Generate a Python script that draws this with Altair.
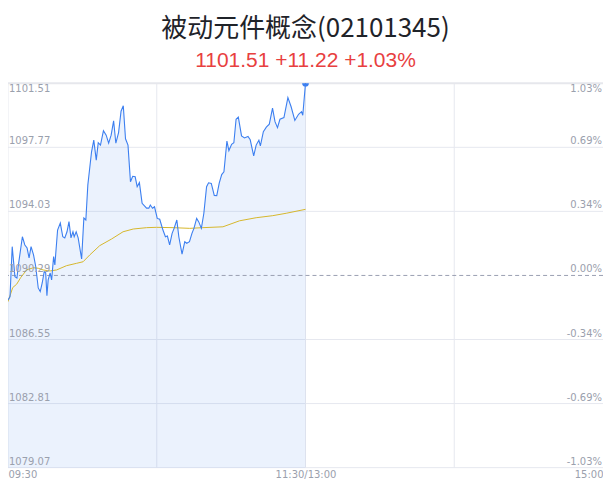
import altair as alt
import pandas as pd

# ---- data ----
minutes = [0, 0.8, 1.7, 2.8, 3.6, 4.1, 5.8, 6.8, 7.7, 8.5,
           9.3, 10.3, 11.2, 12.2, 13.0, 13.8, 14.6, 15.2, 15.7, 16.2,
           17.0, 17.6, 18.4, 18.9, 20.0, 21.1, 22.1, 22.9, 23.8, 24.6,
           25.4, 26.2, 26.7, 27.5, 28.3, 29.7, 30.6, 31.4, 32.2, 33.7,
           34.6, 35.6, 36.4, 37.3, 38.5, 39.6, 40.6, 41.6, 42.6, 43.5,
           44.6, 45.6, 46.5, 47.4, 48.4, 49.4, 50.3, 51.3, 52.1, 53.0,
           54.1, 55.9, 56.8, 57.4, 58.3, 59.1, 60.2, 61.2, 62.5, 63.5,
           64.3, 65.2, 66.2, 67.0, 68.1, 68.9, 70.2, 71.3, 72.1, 73.2,
           74.2, 75.0, 76.1, 76.9, 78.0, 79.0, 80.1, 80.9, 82.0, 83.2,
           84.2, 85.2, 86.2, 87.1, 88.3, 89.1, 90.2, 91.1, 92.0, 92.9,
           94.2, 95.4, 96.8, 97.7, 99.1, 100.1, 101.2, 101.8, 103.0, 104.2,
           105.4, 106.7, 107.7, 108.7, 109.7, 111.3, 112.9, 114.2, 115.7, 117.2,
           118.4, 118.9, 120]
prices = [1088.86, 1089.04, 1091.97, 1090.22, 1090.14, 1090.80, 1092.55, 1092.07, 1091.89, 1091.31,
          1091.97, 1091.49, 1090.80, 1089.56, 1089.35, 1089.85, 1090.51, 1090.44, 1089.10, 1090.03,
          1090.44, 1090.03, 1091.39, 1090.90, 1092.94, 1093.35, 1092.55, 1092.48, 1092.84, 1093.43,
          1092.48, 1092.84, 1092.55, 1092.84, 1092.48, 1091.25, 1093.64, 1093.53, 1095.57, 1097.51,
          1098.19, 1097.02, 1098.04, 1097.90, 1098.74, 1098.48, 1098.01, 1098.48, 1099.32, 1098.01,
          1098.63, 1099.88, 1100.20, 1098.27, 1097.90, 1095.76, 1096.08, 1096.05, 1095.47, 1095.71,
          1094.50, 1094.22, 1094.22, 1094.40, 1094.21, 1094.30, 1093.62, 1093.57, 1092.94, 1092.55,
          1092.59, 1092.07, 1092.75, 1093.04, 1093.53, 1092.55, 1091.54, 1092.26, 1092.17, 1092.26,
          1092.75, 1093.04, 1093.62, 1093.43, 1093.04, 1093.92, 1095.47, 1095.70, 1095.66, 1094.96,
          1094.95, 1095.68, 1096.18, 1096.34, 1098.13, 1097.58, 1097.95, 1098.04, 1099.41, 1099.53,
          1098.44, 1098.32, 1098.40, 1098.21, 1097.27, 1097.90, 1098.19, 1097.86, 1098.68, 1098.95,
          1099.12, 1100.06, 1099.27, 1098.92, 1099.41, 1099.51, 1100.67, 1100.14, 1099.34, 1099.70,
          1099.85, 1099.64, 1101.51]

avg_minutes = [0, 1.9, 3.5, 5.1, 7.5, 10.2, 12.2, 14.2, 16.9, 19.6,
               23.6, 27.7, 30.3, 33.0, 37.0, 41.8, 46.4, 50.5, 55.9, 59.9,
               66.6, 73.3, 78.6, 86.7, 93.4, 100.1, 106.8, 112.2, 120]
avg_prices = [1088.76, 1089.58, 1089.78, 1090.16, 1090.61, 1090.74, 1090.71, 1090.61, 1090.55, 1090.61,
              1090.86, 1091.00, 1091.09, 1091.49, 1092.03, 1092.42, 1092.84, 1093.00, 1093.08, 1093.10,
              1093.08, 1093.04, 1093.08, 1093.13, 1093.48, 1093.66, 1093.78, 1093.92, 1094.15]

y_ticks = [1101.51, 1097.77, 1094.03, 1090.29, 1086.55, 1082.81, 1079.07]
y_labels = ["1101.51", "1097.77", "1094.03", "1090.29", "1086.55", "1082.81", "1079.07"]
pct_labels = ["1.03%", "0.69%", "0.34%", "0.00%", "-0.34%", "-0.69%", "-1.03%"]
pre_close = 1090.29
grid_minutes = [0, 60, 120, 180]
x_tick_minutes = [0, 120, 240]
x_tick_labels = ["09:30", "11:30/13:00", "15:00"]

title_text = "被动元件概念(02101345)"
subtitle_text = "1101.51 +11.22 +1.03%"

# ---- tables ----
df = pd.DataFrame({"m": minutes, "p": prices})
df_avg = pd.DataFrame({"m": avg_minutes, "p": avg_prices})
df_ticks = pd.DataFrame({"v": y_ticks, "lab": y_labels, "pct": pct_labels})
df_grid_h = pd.DataFrame({"v": [v for v in y_ticks if v != pre_close and v != max(y_ticks)]})
df_grid_v = pd.DataFrame({"m": grid_minutes})
df_last = df.tail(1)

ymin, ymax = min(y_ticks), max(y_ticks)
xs = alt.Scale(domain=[0, 240], nice=False, zero=False)
ys = alt.Scale(domain=[ymin, ymax], nice=False, zero=False)

label_expr = " : ".join(
    f"datum.value == {m} ? '{lab}'" for m, lab in zip(x_tick_minutes[:-1], x_tick_labels[:-1])
) + f" : '{x_tick_labels[-1]}'"

GRID = "#e6e8ef"
LABEL = "#9aa0ad"
FONT = "DejaVu Sans"

x_axis = alt.Axis(values=x_tick_minutes, labelExpr=label_expr, grid=False, domain=False,
                  ticks=False, labelFlush=True, labelFont=FONT, labelFontSize=10,
                  labelColor=LABEL, labelPadding=2, title=None)


def X(field="m:Q"):
    return alt.X(field, scale=xs, axis=x_axis)


def Y(field):
    return alt.Y(field, scale=ys, axis=None)


grid_h = alt.Chart(df_grid_h).mark_rule(color=GRID, strokeWidth=1).encode(y=Y("v:Q"))
top_line = alt.Chart(pd.DataFrame({"v": [ymax]})).mark_rule(color="#e6e7ec", strokeWidth=2).encode(
    y=Y("v:Q"), x=alt.value(-8), x2=alt.value(596))
grid_v = alt.Chart(df_grid_v).mark_rule(color=GRID, strokeWidth=1).encode(x=X())

area = alt.Chart(df).mark_area(color="#3b7ded", opacity=0.1).encode(
    x=X(), y=Y("p:Q"), y2=alt.datum(ymin))

dashed = alt.Chart(pd.DataFrame({"v": [pre_close]})).mark_rule(
    color="#9aa0b2", strokeWidth=1, strokeDash=[4, 3]).encode(y=Y("v:Q"))

avg_line = alt.Chart(df_avg).mark_line(color="#d6b72c", strokeWidth=1).encode(x=X(), y=Y("p:Q"))

price_line = alt.Chart(df).mark_line(color="#3c7ff0", strokeWidth=1.1).encode(x=X(), y=Y("p:Q"))

last_pt = alt.Chart(df_last).mark_point(filled=True, color="#3c7ff0", size=45, opacity=1, clip=True).encode(
    x=X(), y=Y("p:Q"))

tick_base = alt.Chart(df_ticks)
txt = dict(font=FONT, fontSize=10, color=LABEL)
left_top = tick_base.transform_filter(f"datum.v == {ymax}").mark_text(
    align="left", baseline="top", dx=1, dy=1, **txt).encode(
    x=alt.datum(0), y=Y("v:Q"), text="lab:N")
left_rest = tick_base.transform_filter(f"datum.v < {ymax}").mark_text(
    align="left", baseline="bottom", dx=1, dy=-1, **txt).encode(
    x=alt.datum(0), y=Y("v:Q"), text="lab:N")
right_top = tick_base.transform_filter(f"datum.v == {ymax}").mark_text(
    align="right", baseline="top", dx=-1, dy=1, **txt).encode(
    x=alt.datum(240), y=Y("v:Q"), text="pct:N")
right_rest = tick_base.transform_filter(f"datum.v < {ymax}").mark_text(
    align="right", baseline="bottom", dx=-1, dy=-1, **txt).encode(
    x=alt.datum(240), y=Y("v:Q"), text="pct:N")

chart = alt.layer(
    grid_h, grid_v, top_line, area, dashed, avg_line, price_line, last_pt,
    left_top, left_rest, right_top, right_rest
).properties(
    width=596, height=385,
    title=alt.Title(text=title_text, subtitle=subtitle_text, anchor="middle", frame="group",
                    font="Noto Sans CJK SC", fontSize=26, fontWeight="normal", color="#1f2329",
                    subtitleFont="Liberation Sans", subtitleFontSize=21, subtitleColor="#e8403f",
                    subtitlePadding=8, offset=10),
    autosize=alt.AutoSizeParams(type="none"),
    padding={"left": 0, "top": 75, "right": 0, "bottom": 13},
).configure_view(stroke=None)

chart.save("out.html", embed_options={"renderer": "svg", "actions": False})
